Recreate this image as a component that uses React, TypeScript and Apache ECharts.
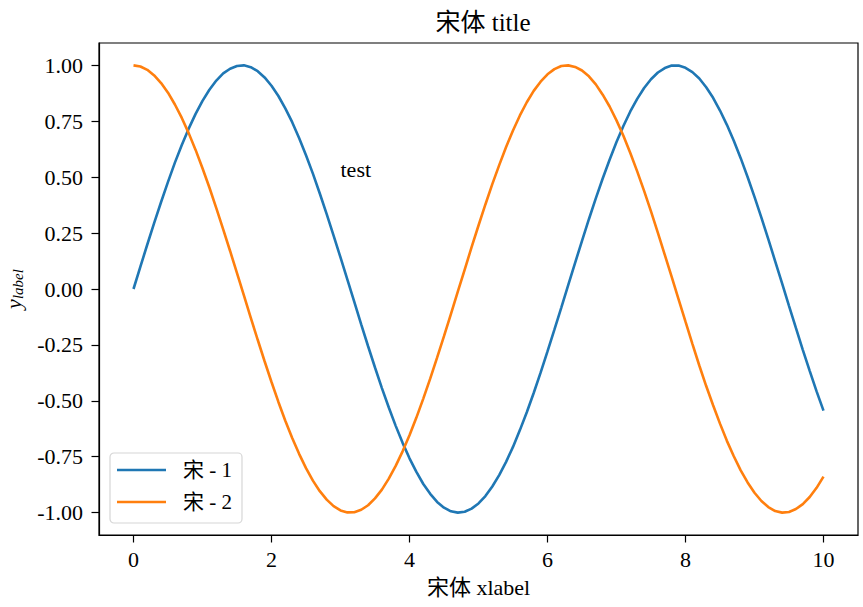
import React, { useEffect, useRef } from "react";
import * as echarts from "echarts";

const xValues = [
  0, 0.1, 0.2, 0.3, 0.4, 0.5, 0.6, 0.7, 0.8, 0.9,
  1, 1.1, 1.2, 1.3, 1.4, 1.5, 1.6, 1.7, 1.8, 1.9,
  2, 2.1, 2.2, 2.3, 2.4, 2.5, 2.6, 2.7, 2.8, 2.9,
  3, 3.1, 3.2, 3.3, 3.4, 3.5, 3.6, 3.7, 3.8, 3.9,
  4, 4.1, 4.2, 4.3, 4.4, 4.5, 4.6, 4.7, 4.8, 4.9,
  5, 5.1, 5.2, 5.3, 5.4, 5.5, 5.6, 5.7, 5.8, 5.9,
  6, 6.1, 6.2, 6.3, 6.4, 6.5, 6.6, 6.7, 6.8, 6.9,
  7, 7.1, 7.2, 7.3, 7.4, 7.5, 7.6, 7.7, 7.8, 7.9,
  8, 8.1, 8.2, 8.3, 8.4, 8.5, 8.6, 8.7, 8.8, 8.9,
  9, 9.1, 9.2, 9.3, 9.4, 9.5, 9.6, 9.7, 9.8, 9.9,
  10,
];
const series1 = [
  0.0, 0.1, 0.199, 0.296, 0.389, 0.479, 0.565, 0.644, 0.717, 0.783,
  0.841, 0.891, 0.932, 0.964, 0.985, 0.997, 1.0, 0.992, 0.974, 0.946,
  0.909, 0.863, 0.808, 0.746, 0.675, 0.598, 0.516, 0.427, 0.335, 0.239,
  0.141, 0.042, -0.058, -0.158, -0.256, -0.351, -0.443, -0.53, -0.612, -0.688,
  -0.757, -0.818, -0.872, -0.916, -0.952, -0.978, -0.994, -1.0, -0.996, -0.982,
  -0.959, -0.926, -0.883, -0.832, -0.773, -0.706, -0.631, -0.551, -0.465, -0.374,
  -0.279, -0.182, -0.083, 0.017, 0.117, 0.215, 0.312, 0.405, 0.494, 0.578,
  0.657, 0.729, 0.794, 0.85, 0.899, 0.938, 0.968, 0.988, 0.999, 0.999,
  0.989, 0.97, 0.941, 0.902, 0.855, 0.798, 0.734, 0.663, 0.585, 0.501,
  0.412, 0.319, 0.223, 0.124, 0.025, -0.075, -0.174, -0.272, -0.366, -0.458,
  -0.544,
];
const series2 = [
  1.0, 0.995, 0.98, 0.955, 0.921, 0.878, 0.825, 0.765, 0.697, 0.622,
  0.54, 0.454, 0.362, 0.267, 0.17, 0.071, -0.029, -0.129, -0.227, -0.323,
  -0.416, -0.505, -0.589, -0.666, -0.737, -0.801, -0.857, -0.904, -0.942, -0.971,
  -0.99, -0.999, -0.998, -0.987, -0.967, -0.936, -0.897, -0.848, -0.791, -0.726,
  -0.654, -0.575, -0.49, -0.401, -0.307, -0.211, -0.112, -0.012, 0.087, 0.187,
  0.284, 0.378, 0.469, 0.554, 0.635, 0.709, 0.776, 0.835, 0.886, 0.927,
  0.96, 0.983, 0.997, 1.0, 0.993, 0.977, 0.951, 0.915, 0.869, 0.816,
  0.754, 0.685, 0.608, 0.526, 0.439, 0.347, 0.251, 0.153, 0.054, -0.046,
  -0.146, -0.245, -0.342, -0.434, -0.52, -0.602, -0.679, -0.748, -0.811, -0.865,
  -0.911, -0.948, -0.975, -0.993, -1.0, -0.997, -0.984, -0.962, -0.93, -0.889,
  -0.839,
];
const seriesNames = ["宋 - 1", "宋 - 2"];
const xTicks = [0, 2, 4, 6, 8, 10];
const yTicks = [-1, -0.75, -0.5, -0.25, 0, 0.25, 0.5, 0.75, 1];
const annotation = { x: 3, y: 0.5, text: "test" };
const titleText = "宋体 title";
const xLabel = "宋体 xlabel";

const FONT = "'Liberation Serif', 'Times New Roman', 'Noto Sans CJK SC', serif";

export default function App() {
  const ref = useRef<HTMLDivElement>(null);
  useEffect(() => {
    if (!ref.current) return;
    const chart = echarts.init(ref.current, undefined, { renderer: "svg" });
    const toPairs = (ys: number[]) => xValues.map((x, i) => [x, ys[i]]);
    chart.setOption({
      animation: false,
      backgroundColor: "#ffffff",
      textStyle: { fontFamily: FONT, color: "#000" },
      title: {
        text: titleText,
        left: 478,
        top: 5,
        textAlign: "center",
        textStyle: { fontFamily: FONT, fontSize: 25, fontWeight: "normal", color: "#000" },
      },
      grid: {
        left: 99,
        right: 5,
        top: 43,
        bottom: 72,
        containLabel: false,
        outerBoundsMode: "none",
        show: true,
        borderColor: "#000",
        borderWidth: 1.2,
        backgroundColor: "transparent",
      },
      legend: {
        orient: "vertical",
        left: 110,
        top: 453,
        data: seriesNames.map((n) => ({ name: n, icon: "rect" })),
        itemWidth: 49,
        itemHeight: 2.6,
        itemGap: 10,
        padding: [6, 10, 10, 7],
        borderColor: "#d6d6d6",
        borderWidth: 1.2,
        borderRadius: 4,
        backgroundColor: "rgba(255,255,255,0.8)",
        textStyle: { fontFamily: FONT, fontSize: 21, color: "#000", padding: [0, 0, 0, 12], lineHeight: 22 },
      },
      xAxis: {
        type: "value",
        min: -0.5,
        max: 10.5,
        name: xLabel,
        nameLocation: "middle",
        nameGap: 41,
        nameTextStyle: { fontFamily: FONT, fontSize: 22, color: "#000" },
        axisLine: { show: true, onZero: false, lineStyle: { color: "#000", width: 1.2 } },
        axisTick: { show: true, length: 7.5, lineStyle: { color: "#000", width: 1.2 }, customValues: xTicks },
        axisLabel: {
          fontFamily: FONT,
          fontSize: 22,
          color: "#000",
          margin: 13,
          customValues: xTicks,
        },
        splitLine: { show: false },
      },
      yAxis: {
        type: "value",
        min: -1.1,
        max: 1.1,
        name: "{i|y}{s|label}",
        nameLocation: "middle",
        nameRotate: 90,
        nameGap: 74,
        nameTextStyle: {
          rich: {
            i: { fontFamily: FONT, fontStyle: "italic", fontSize: 22, color: "#000" },
            s: { fontFamily: FONT, fontStyle: "italic", fontSize: 15, color: "#000", padding: [8, 0, 0, 0] },
          },
        },
        axisLine: { show: true, onZero: false, lineStyle: { color: "#000", width: 1.2 } },
        axisTick: { show: true, length: 7.5, lineStyle: { color: "#000", width: 1.2 }, customValues: yTicks },
        axisLabel: {
          fontFamily: FONT,
          fontSize: 22,
          color: "#000",
          margin: 16,
          customValues: yTicks,
          formatter: (v: number) => v.toFixed(2),
        },
        splitLine: { show: false },
      },
      series: [
        {
          name: seriesNames[0],
          type: "line",
          data: toPairs(series1),
          smooth: false,
          symbol: "none",
          lineStyle: { color: "#1f77b4", width: 2.6 },
          itemStyle: { color: "#1f77b4" },
          markPoint: {
            symbol: "circle",
            symbolSize: 0,
            data: [{ coord: [annotation.x, annotation.y], value: annotation.text }],
            label: {
              show: true,
              position: [0, -19],
              align: "left",
              formatter: annotation.text,
              fontFamily: FONT,
              fontSize: 22,
              color: "#000",
            },
          },
        },
        {
          name: seriesNames[1],
          type: "line",
          data: toPairs(series2),
          smooth: false,
          symbol: "none",
          lineStyle: { color: "#ff7f0e", width: 2.6 },
          itemStyle: { color: "#ff7f0e" },
        },
      ],
    });
    return () => chart.dispose();
  }, []);
  return <div ref={ref} style={{ width: 863, height: 607, position: "absolute", left: 0, top: 0 }} />;
}
